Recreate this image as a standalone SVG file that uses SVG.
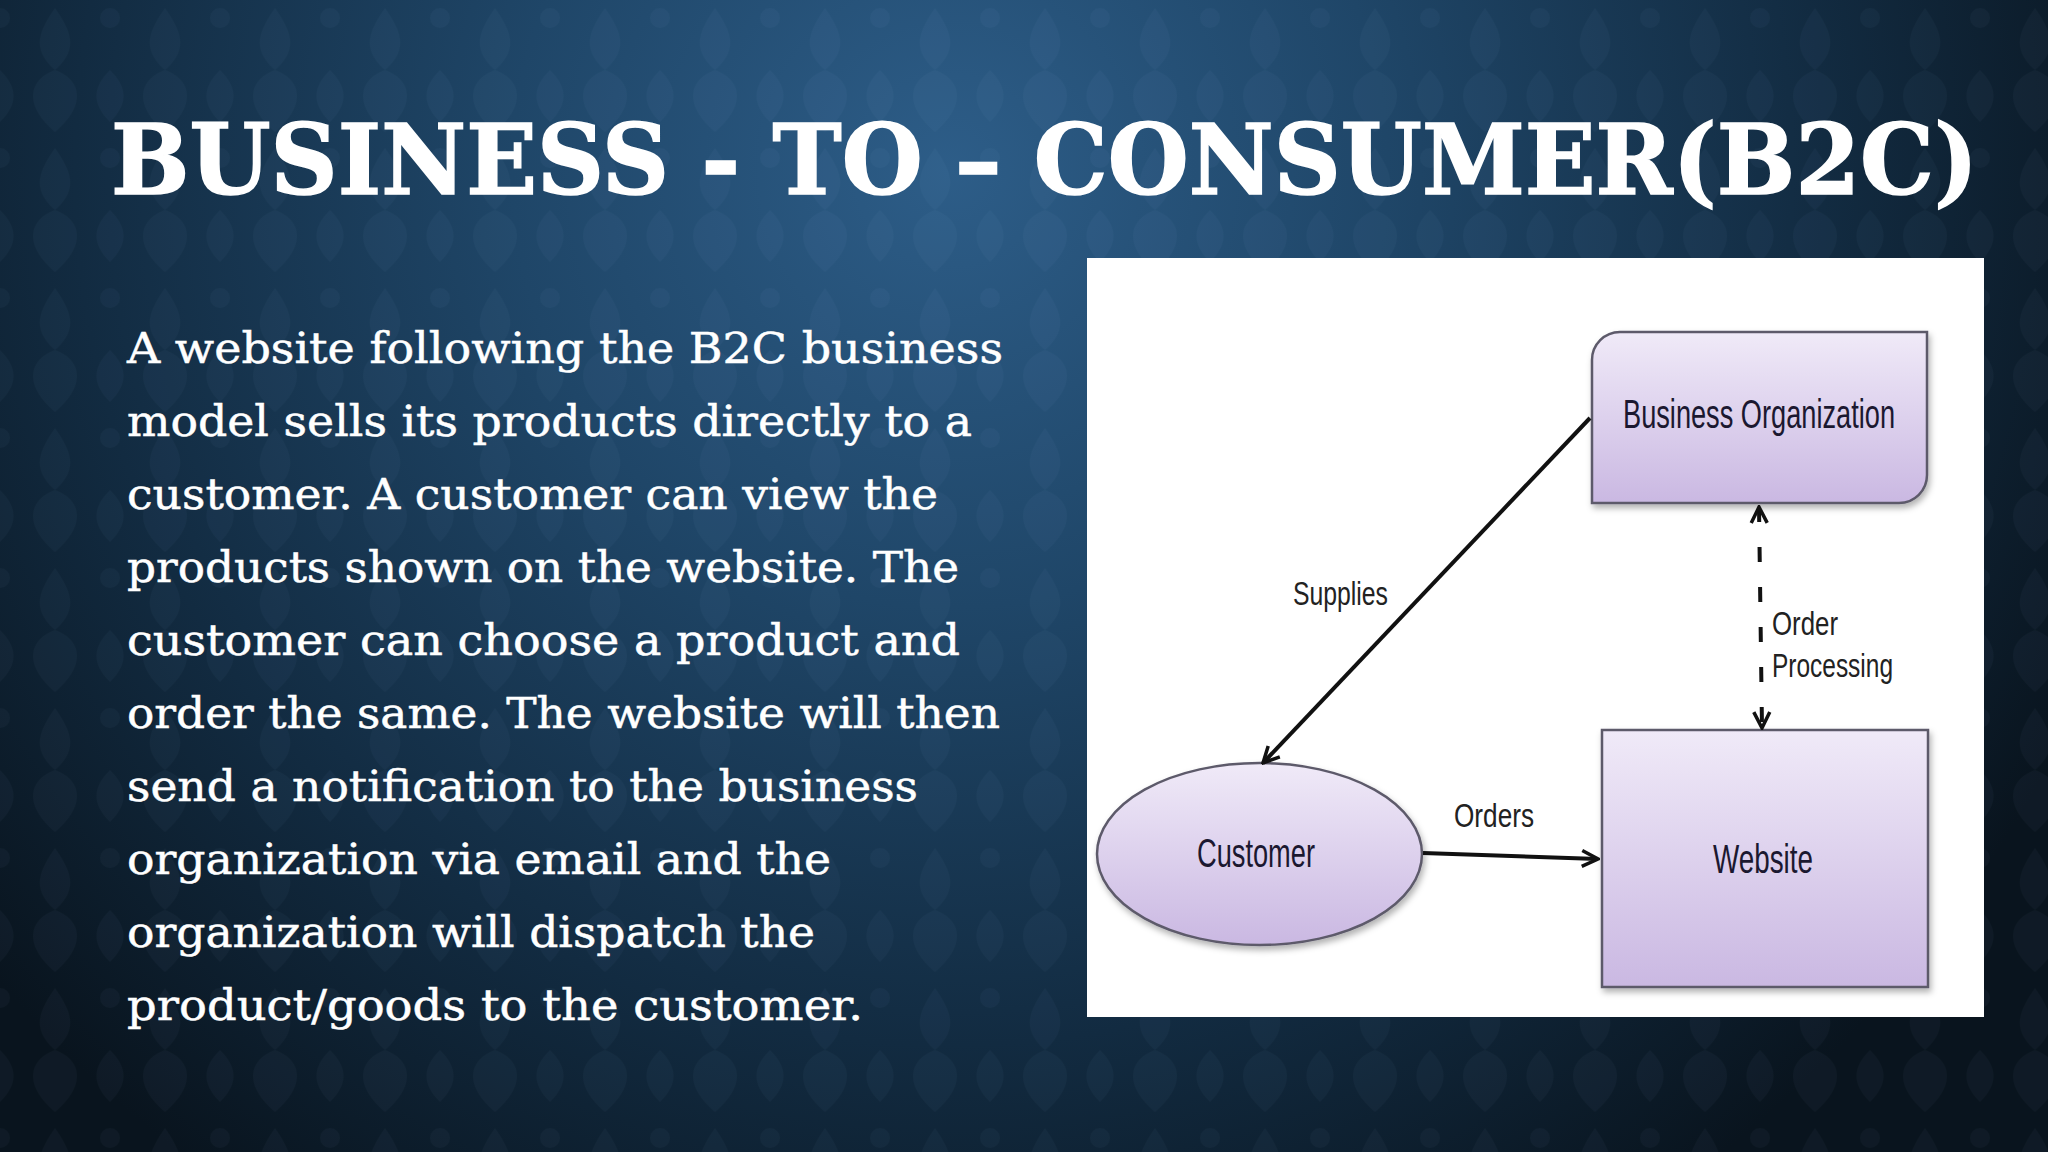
<svg xmlns="http://www.w3.org/2000/svg" width="2048" height="1152" viewBox="0 0 2048 1152">
  <defs>
    <radialGradient id="bg" gradientUnits="userSpaceOnUse" cx="950" cy="170" r="1250">
      <stop offset="0" stop-color="#2d5d88"/>
      <stop offset="0.35" stop-color="#1f4668"/>
      <stop offset="0.7" stop-color="#122b41"/>
      <stop offset="1" stop-color="#09141e"/>
    </radialGradient>
    <pattern id="damask" width="110" height="140" patternUnits="userSpaceOnUse">
      <g fill="#9cc4e8" opacity="0.035">
        <path d="M55,8 C70,30 80,48 55,70 C30,48 40,30 55,8 Z"/>
        <path d="M55,70 C78,78 90,102 55,132 C20,102 32,78 55,70 Z"/>
        <path d="M0,70 C16,86 20,102 0,122 C-20,102 -16,86 0,70 Z"/>
        <path d="M110,70 C126,86 130,102 110,122 C90,102 94,86 110,70 Z"/>
        <circle cx="0" cy="18" r="10"/>
        <circle cx="110" cy="18" r="10"/>
      </g>
    </pattern>
    <linearGradient id="lav" x1="0" y1="0" x2="0" y2="1">
      <stop offset="0" stop-color="#f0eaf8"/>
      <stop offset="1" stop-color="#cab8e2"/>
    </linearGradient>
    <filter id="sh" x="-10%" y="-10%" width="120%" height="130%">
      <feDropShadow dx="2" dy="4" stdDeviation="3" flood-color="#000" flood-opacity="0.3"/>
    </filter>
    <marker id="arr" viewBox="0 0 20 20" refX="18" refY="10" markerWidth="20" markerHeight="20" markerUnits="userSpaceOnUse" orient="auto-start-reverse">
      <path d="M2,2 L18,10 L2,18" fill="none" stroke="#111" stroke-width="3.5" stroke-linejoin="miter"/>
    </marker>
    <style>
      .title { font-family: "DejaVu Serif", "Liberation Serif", serif; font-weight: bold; font-size: 86px; fill: #ffffff; stroke: #ffffff; stroke-width: 1.4px; }
      .body { font-family: "DejaVu Serif", "Liberation Serif", serif; font-size: 43px; fill: #ffffff; stroke: #ffffff; stroke-width: 0.5px; }
      .node { fill: url(#lav); stroke: #5d5a6b; stroke-width: 2.5; filter: url(#sh); }
      .nlabel { font-family: "Liberation Sans", "Open Sans", sans-serif; font-size: 40px; fill: #1b1830; }
      .elabel { font-family: "Liberation Sans", "Open Sans", sans-serif; font-size: 34px; fill: #222; }
      .conn { fill: none; stroke: #111; stroke-width: 4; }
    </style>
  </defs>

  <rect x="0" y="0" width="2048" height="1152" fill="url(#bg)"/>
  <rect x="0" y="0" width="2048" height="1152" fill="url(#damask)"/>

  <g transform="translate(111,194) scale(1,1.14)">
    <text class="title" x="0" y="0" textLength="1867" lengthAdjust="spacingAndGlyphs">BUSINESS - TO – CONSUMER(B2C)</text>
  </g>

  <g id="body-text">
    <text class="body" x="127" y="363" textLength="876" lengthAdjust="spacingAndGlyphs">A website following the B2C business</text>
    <text class="body" x="127" y="436" textLength="845" lengthAdjust="spacingAndGlyphs">model sells its products directly to a</text>
    <text class="body" x="127" y="509" textLength="811" lengthAdjust="spacingAndGlyphs">customer. A customer can view the</text>
    <text class="body" x="127" y="582" textLength="832" lengthAdjust="spacingAndGlyphs">products shown on the website. The</text>
    <text class="body" x="127" y="655" textLength="833" lengthAdjust="spacingAndGlyphs">customer can choose a product and</text>
    <text class="body" x="127" y="728" textLength="873" lengthAdjust="spacingAndGlyphs">order the same. The website will then</text>
    <text class="body" x="127" y="801" textLength="791" lengthAdjust="spacingAndGlyphs">send a notification to the business</text>
    <text class="body" x="127" y="874" textLength="704" lengthAdjust="spacingAndGlyphs">organization via email and the</text>
    <text class="body" x="127" y="947" textLength="688" lengthAdjust="spacingAndGlyphs">organization will dispatch the</text>
    <text class="body" x="127" y="1020" textLength="736" lengthAdjust="spacingAndGlyphs">product/goods to the customer.</text>
  </g>

  <rect id="panel" x="1087" y="258" width="897" height="759" fill="#ffffff"/>

  <g id="business-organization">
    <path class="node" d="M1620,332 H1927 V475 A28,28 0 0 1 1899,503 H1592 V360 A28,28 0 0 1 1620,332 Z"/>
    <text class="nlabel" x="1623" y="428" textLength="272" lengthAdjust="spacingAndGlyphs">Business Organization</text>
  </g>

  <g id="website">
    <rect class="node" x="1602" y="730" width="326" height="257"/>
    <text class="nlabel" x="1713" y="873" textLength="100" lengthAdjust="spacingAndGlyphs">Website</text>
  </g>

  <g id="customer">
    <ellipse class="node" cx="1259.5" cy="854" rx="162.5" ry="91"/>
    <text class="nlabel" x="1197" y="867" textLength="118" lengthAdjust="spacingAndGlyphs">Customer</text>
  </g>

  <g id="connectors">
    <line class="conn" x1="1590" y1="418" x2="1263" y2="763" marker-end="url(#arr)"/>
    <text class="elabel" x="1293" y="605" textLength="95" lengthAdjust="spacingAndGlyphs">Supplies</text>

    <line class="conn" x1="1423" y1="853" x2="1598" y2="859" stroke-width="4.5" marker-end="url(#arr)"/>
    <text class="elabel" x="1454" y="827" textLength="80" lengthAdjust="spacingAndGlyphs">Orders</text>

    <line class="conn" x1="1759" y1="507" x2="1762" y2="728" stroke-dasharray="15 25" marker-start="url(#arr)" marker-end="url(#arr)"/>
    <text class="elabel" x="1772" y="635" textLength="66" lengthAdjust="spacingAndGlyphs">Order</text>
    <text class="elabel" x="1772" y="677" textLength="121" lengthAdjust="spacingAndGlyphs">Processing</text>
  </g>
</svg>
